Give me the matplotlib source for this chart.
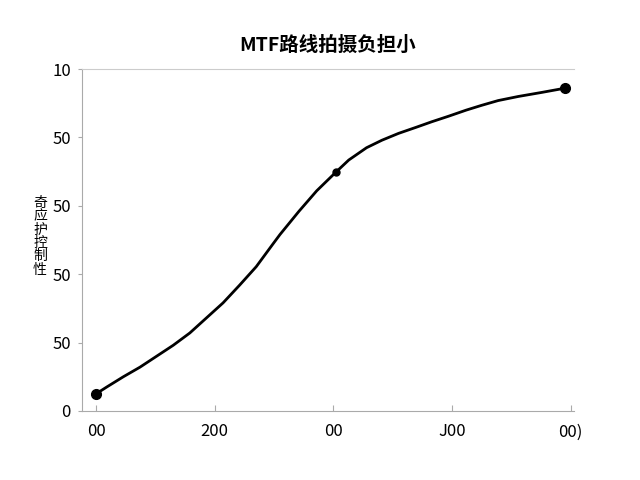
import matplotlib.pyplot as plt

plt.rcParams['font.family'] = ['Noto Sans CJK SC', 'DejaVu Sans']

# curve (x in tick steps, y in tick steps)
curve_x = [0.0, 0.09, 0.23, 0.37, 0.51, 0.65, 0.79, 0.93, 1.07, 1.21, 1.35, 1.49,
           1.55, 1.71, 1.86, 2.02, 2.13, 2.28, 2.41, 2.55, 2.70, 2.83, 2.97,
           3.12, 3.25, 3.39, 3.56, 3.76, 3.95]
curve_y = [0.25, 0.35, 0.50, 0.64, 0.80, 0.96, 1.14, 1.36, 1.58, 1.84, 2.11, 2.44,
           2.58, 2.92, 3.22, 3.49, 3.67, 3.85, 3.96, 4.06, 4.15, 4.23, 4.31,
           4.40, 4.47, 4.54, 4.60, 4.66, 4.72]
marker_x = [0.0, 2.02, 3.95]
marker_y = [0.25, 3.49, 4.72]
marker_size = [7, 5, 7]

x_ticks = [0, 1, 2, 3, 4]
x_labels = ['00', '200', '00', 'J00', '00)']
y_ticks = [0, 1, 2, 3, 4, 5]
y_labels = ['0', '50', '50', '50', '50', '10']

title = 'MTF路线拍摄负担小'
ylabel = '奇应护控制性'

fig = plt.figure(figsize=(6.4, 4.8), dpi=100)
ax = fig.add_axes([0.128, 0.144, 0.769, 0.712])

ax.plot(curve_x, curve_y, color='black', lw=2.0, solid_joinstyle='round', solid_capstyle='round')
for x, y, s in zip(marker_x, marker_y, marker_size):
    ax.plot(x, y, 'o', color='black', ms=s)

ax.set_xlim(-0.12, 4.03)
ax.set_ylim(0, 5)
ax.set_xticks(x_ticks)
ax.set_xticklabels(x_labels, fontsize=12)
ax.set_yticks(y_ticks)
ax.set_yticklabels(y_labels, fontsize=12)
ax.tick_params(axis='x', direction='in', length=4, color='#aaaaaa', pad=9)
ax.tick_params(axis='y', direction='out', length=3, color='#aaaaaa', pad=5)

for side in ['left', 'bottom']:
    ax.spines[side].set_color('#aaaaaa')
ax.spines['top'].set_color('#cccccc')
ax.spines['right'].set_visible(False)

ax.set_title(title, fontsize=14, fontweight='semibold', pad=13)
fig.text(0.0625, 0.508, '\n'.join(ylabel), fontsize=10, ha='center', va='center', linespacing=0.95)

fig.savefig('out.png', dpi=100)
